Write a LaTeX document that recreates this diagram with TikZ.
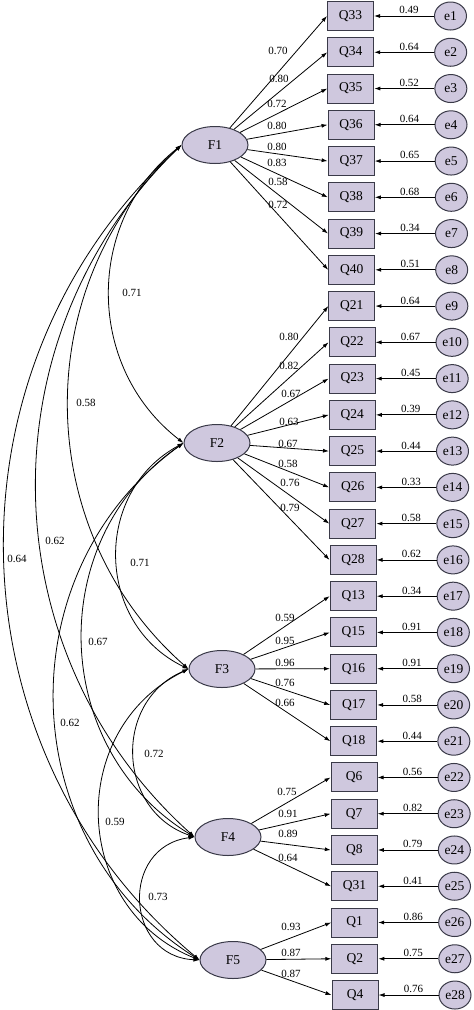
\documentclass[tikz,border=0pt]{standalone}
\usepackage{fontspec}
\setmainfont{Liberation Serif}
\usetikzlibrary{arrows.meta,shapes.geometric}

\begin{document}
\begin{tikzpicture}[x=1pt,y=-1pt,font=\fontsize{11}{13}\selectfont,
    obsbox/.style={draw=semedge,fill=semfill,line width=1pt,minimum width=46pt,
      minimum height=29pt,inner sep=0pt,font=\fontsize{13.5}{16}\selectfont},
    errnode/.style={ellipse,draw=semedge,fill=semfill,line width=1pt,minimum width=32pt,
      minimum height=28pt,inner sep=0pt,font=\fontsize{13.5}{16}\selectfont},
    latent/.style={ellipse,draw=semedge,fill=semfill,line width=1pt,minimum width=66pt,
      minimum height=37pt,inner sep=0pt,font=\fontsize{13.5}{16}\selectfont},
    path/.style={line width=0.8pt,-{Latex[length=6pt,width=4pt]}},
    covpath/.style={line width=0.8pt,{Latex[length=6pt,width=4pt]}-{Latex[length=6pt,width=4pt]}},
    coef/.style={inner sep=1.5pt}]
  \definecolor{semfill}{HTML}{CFC8DE}
  \definecolor{semedge}{HTML}{3A3A48}

  \useasboundingbox (0,0) rectangle (474,1010);

  % items and error terms
  \foreach \q/\v [count=\i] in {Q33/0.49,Q34/0.64,Q35/0.52,Q36/0.64,Q37/0.65,Q38/0.68,
      Q39/0.34,Q40/0.51,Q21/0.64,Q22/0.67,Q23/0.45,Q24/0.39,Q25/0.44,Q26/0.33,Q27/0.58,
      Q28/0.62,Q13/0.34,Q15/0.91,Q16/0.91,Q17/0.58,Q18/0.44,Q6/0.56,Q7/0.82,Q8/0.79,
      Q31/0.41,Q1/0.86,Q2/0.75,Q4/0.76} {
    \pgfmathsetmacro\yy{16+36.26*(\i-1)}
    \pgfmathsetmacro\xx{350.5+4.5*(\i-1)/27}
    \node[obsbox] (q\i) at (\xx,\yy) {\q};
    \node[errnode] (e\i) at (\xx+100,\yy) {e\i};
    \draw[path] (e\i) -- (q\i) node[coef,midway,above,xshift=5pt] (le\i) {\v};
  }

  % factors
  \node[latent] (F1) at (215,145) {F1};
  \node[latent] (F2) at (217,443) {F2};
  \node[latent] (F3) at (222,669) {F3};
  \node[latent] (F4) at (228,837) {F4};
  \node[latent] (F5) at (233,960) {F5};

  \foreach \i in {1,...,8} \draw[path] (F1) -- (q\i.west);
  \foreach \i in {9,...,16} \draw[path] (F2) -- (q\i.west);
  \foreach \i in {17,...,21} \draw[path] (F3) -- (q\i.west);
  \foreach \i in {22,...,25} \draw[path] (F4) -- (q\i.west);
  \foreach \i in {26,27,28} \draw[path] (F5) -- (q\i.west);

  % loadings
  \foreach \v/\x/\y [count=\i] in {0.70/278/51,0.80/279/79,0.72/277/104,0.80/277/126,
      0.80/277/147,0.83/277/163,0.58/278/182,0.72/278/205,
      0.80/289/337,0.82/289/366,0.67/291/394,0.63/289/422,0.67/288/444,0.58/288/464,
      0.76/290/483,0.79/290/508,
      0.59/285/618,0.95/285/641,0.96/285/663,0.76/285/683,0.66/285/703,
      0.75/287/792,0.91/288/814,0.89/288/834,0.64/288/858,
      0.93/291/927,0.87/291/953,0.87/291/974}
    \node[coef] (lq\i) at (\x,\y) {\v};

  % covariances
  \draw[covpath] (F1.west) to[bend right=52,looseness=1.06] (F2.west);
  \draw[covpath] (F1.west) to[bend right=48,looseness=1.02] (F3.west);
  \draw[covpath] (F1.west) to[bend right=47,looseness=1.02] (F4.west);
  \draw[covpath] (F1.west) to[bend right=49,looseness=1.03] (F5.west);
  \draw[covpath] (F2.west) to[bend right=63,looseness=1.17] (F3.west);
  \draw[covpath] (F2.west) to[bend right=57,looseness=1.10] (F4.west);
  \draw[covpath] (F2.west) to[bend right=56,looseness=1.09] (F5.west);
  \draw[covpath] (F3.west) to[bend right=69,looseness=1.25] (F4.west);
  \draw[covpath] (F3.west) to[bend right=66,looseness=1.21] (F5.west);
  \draw[covpath] (F4.west) to[bend right=85,looseness=1.56] (F5.west);

  \node[coef] (c12) at (132,293) {0.71};
  \node[coef] (c13) at (86,403) {0.58};
  \node[coef] (c14) at (55,541) {0.62};
  \node[coef] (c15) at (17,559) {0.64};
  \node[coef] (c23) at (140,563) {0.71};
  \node[coef] (c24) at (98,642) {0.67};
  \node[coef] (c25) at (70,723) {0.62};
  \node[coef] (c34) at (154,754) {0.72};
  \node[coef] (c35) at (115,822) {0.59};
  \node[coef] (c45) at (158,897) {0.73};
\end{tikzpicture}
\end{document}
